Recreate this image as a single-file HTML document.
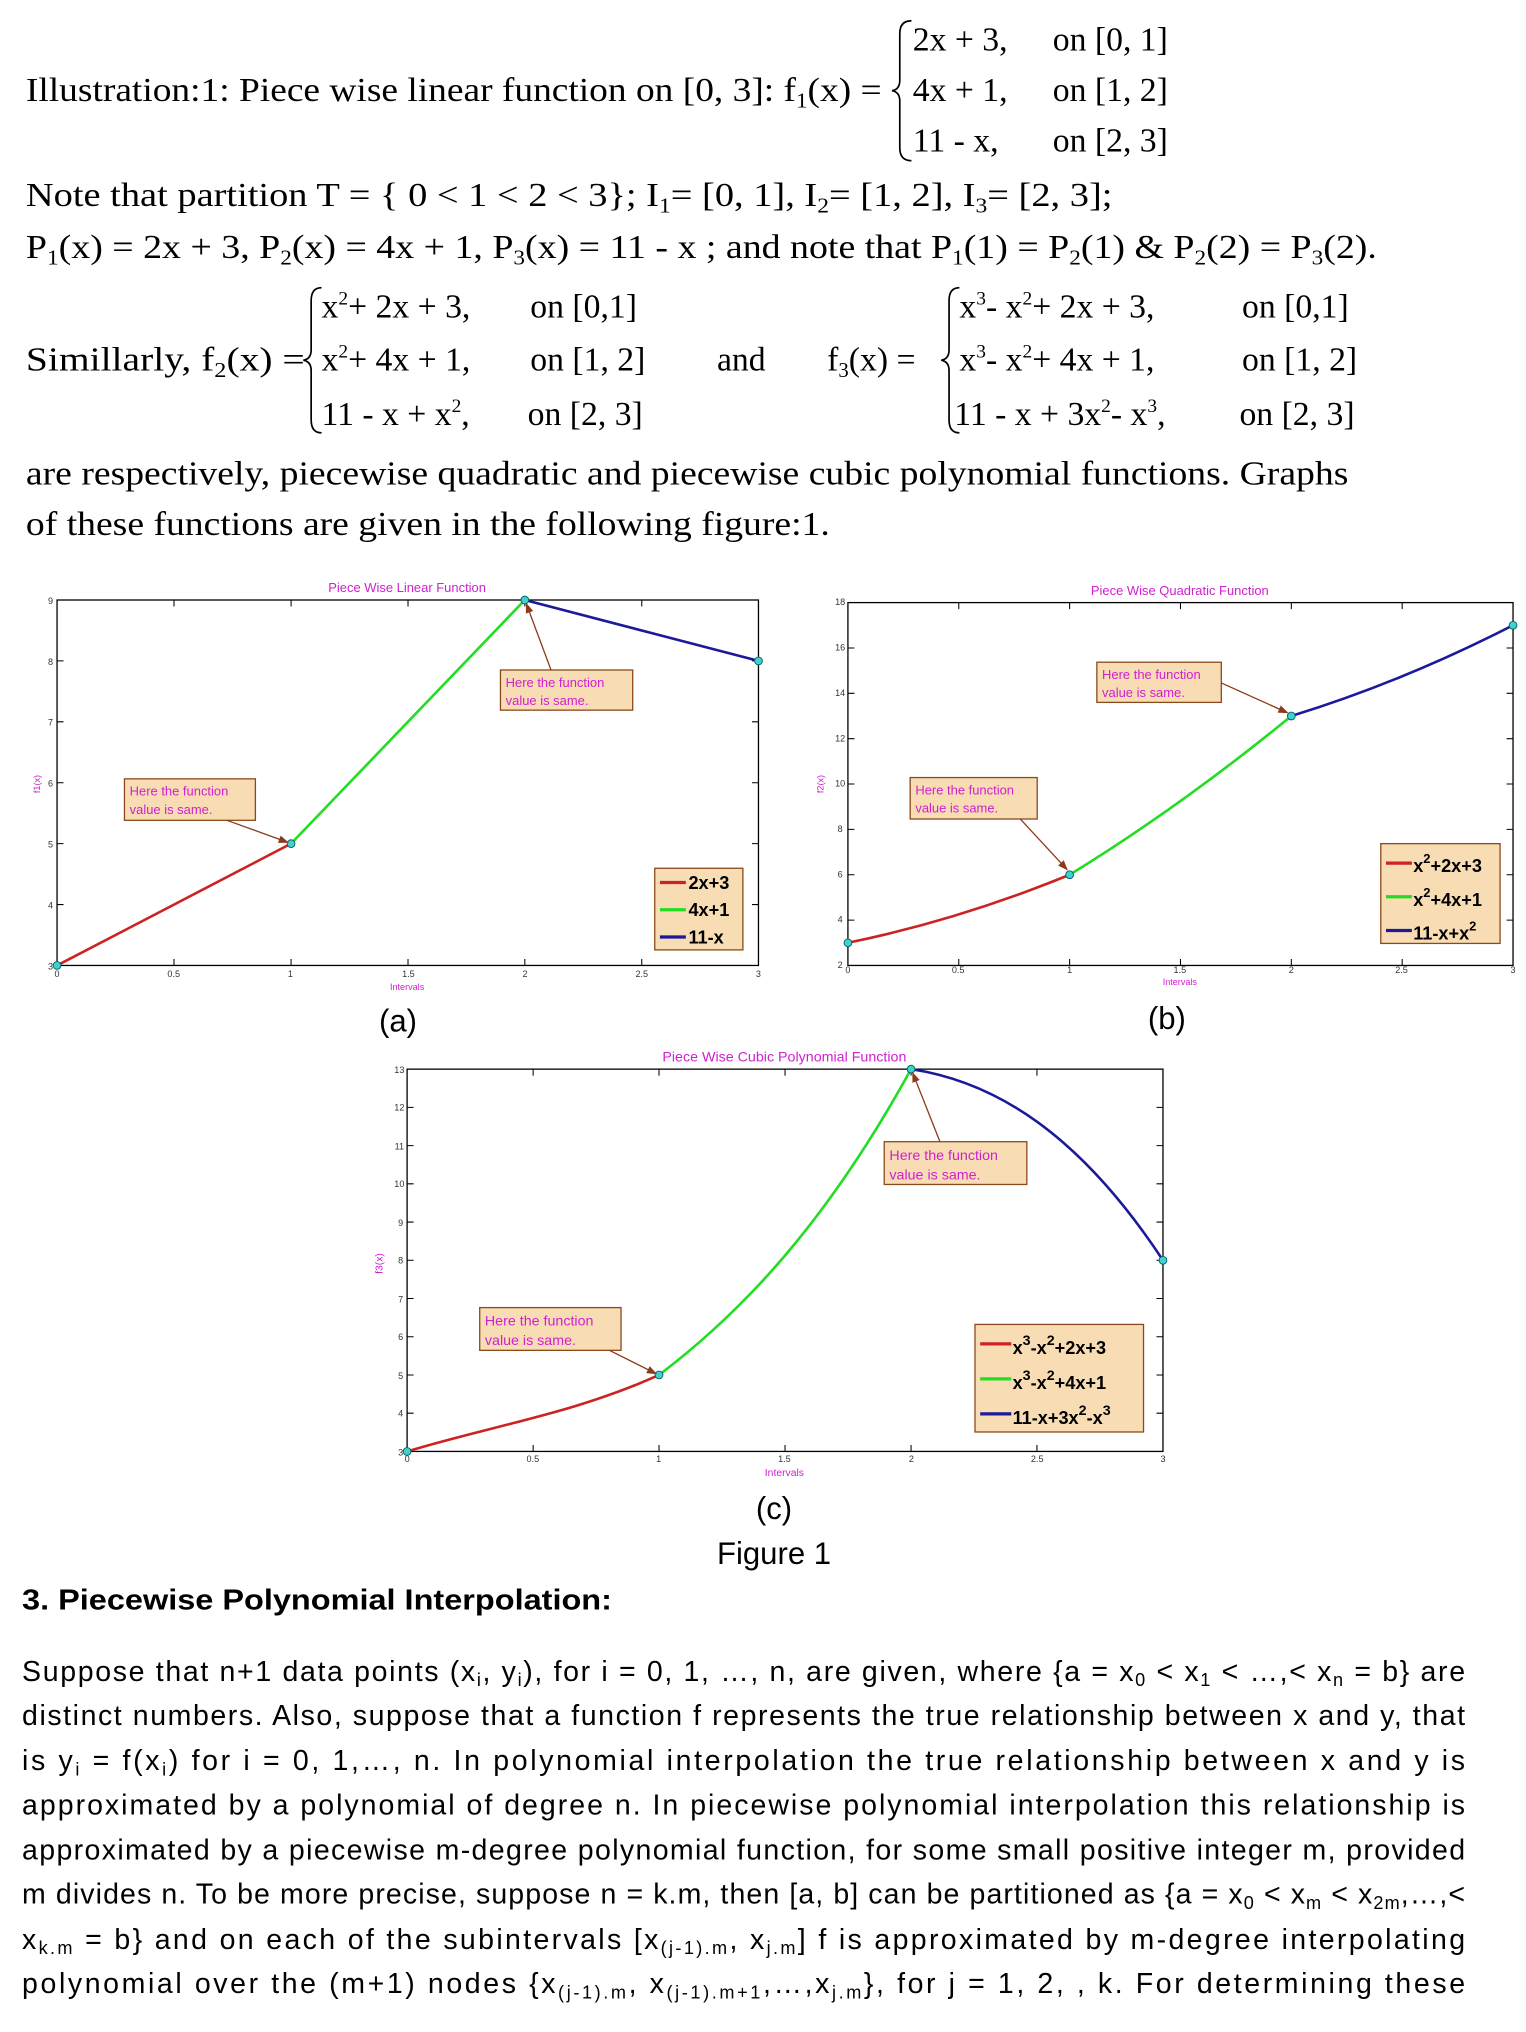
<!DOCTYPE html>
<html><head><meta charset="utf-8"><style>
html,body{margin:0;padding:0;background:#fff}
svg{display:block}
.t{font-family:"Liberation Serif",serif;font-size:26px;fill:#000}
.p{font-family:"Liberation Sans",sans-serif;font-size:22px;fill:#000}
.m{font-family:"Liberation Sans",sans-serif;fill:#d020d0}
.k{font-family:"Liberation Sans",sans-serif;font-size:7px;fill:#333}
.lg{font-family:"Liberation Sans",sans-serif;font-weight:bold;font-size:14px;fill:#000}
.tick{stroke:#000;stroke-width:0.8}
</style></head><body>
<svg width="1526" height="2032" viewBox="0 0 1177 1568" preserveAspectRatio="none" xmlns="http://www.w3.org/2000/svg">
<defs><marker id="ar" markerWidth="8" markerHeight="8" refX="7" refY="4" orient="auto"><path d="M0,1 L8,4 L0,7 z" fill="#8b3a1a"/></marker></defs>
<g class="t">
<text x="20" y="78" textLength="660" lengthAdjust="spacingAndGlyphs">Illustration:1: Piece wise linear function on [0, 3]: f<tspan font-size="16" dy="5">1</tspan><tspan dy="-5">(x) =</tspan></text>
<path d="M703,16 Q694,16 694,26 L694,62 Q694,69 688,70 Q694,71 694,78 L694,114 Q694,124 703,124" fill="none" stroke="#000" stroke-width="1.3"/>
<text x="704" y="39">2x + 3,</text><text x="812" y="39">on [0, 1]</text>
<text x="704" y="78">4x + 1,</text><text x="812" y="78">on [1, 2]</text>
<text x="704" y="117">11 - x,</text><text x="812" y="117">on [2, 3]</text>
<text x="20" y="159" textLength="838" lengthAdjust="spacingAndGlyphs">Note that partition T = { 0 &lt; 1 &lt; 2 &lt; 3}; I<tspan font-size="16" dy="5">1</tspan><tspan dy="-5">= [0, 1], I</tspan><tspan font-size="16" dy="5">2</tspan><tspan dy="-5">= [1, 2], I</tspan><tspan font-size="16" dy="5">3</tspan><tspan dy="-5">= [2, 3];</tspan></text>
<text x="20" y="199" textLength="1042" lengthAdjust="spacingAndGlyphs">P<tspan font-size="16" dy="5">1</tspan><tspan dy="-5">(x) = 2x + 3,  P</tspan><tspan font-size="16" dy="5">2</tspan><tspan dy="-5">(x) = 4x + 1, P</tspan><tspan font-size="16" dy="5">3</tspan><tspan dy="-5">(x) = 11 - x ; and note that P</tspan><tspan font-size="16" dy="5">1</tspan><tspan dy="-5">(1) = P</tspan><tspan font-size="16" dy="5">2</tspan><tspan dy="-5">(1) &amp; P</tspan><tspan font-size="16" dy="5">2</tspan><tspan dy="-5">(2) = P</tspan><tspan font-size="16" dy="5">3</tspan><tspan dy="-5">(2).</tspan></text>
<text x="20" y="286" textLength="215" lengthAdjust="spacingAndGlyphs">Simillarly, f<tspan font-size="16" dy="5">2</tspan><tspan dy="-5">(x) =</tspan></text>
<path d="M248,222 Q240,222 240,232 L240,270 Q240,277 234,278 Q240,279 240,286 L240,324 Q240,334 248,334" fill="none" stroke="#000" stroke-width="1.3"/>
<text x="248" y="245">x<tspan font-size="15" dy="-10">2</tspan><tspan dy="10">+ 2x + 3,</tspan></text><text x="409" y="245">on [0,1]</text>
<text x="248" y="286">x<tspan font-size="15" dy="-10">2</tspan><tspan dy="10">+ 4x + 1,</tspan></text><text x="409" y="286">on [1, 2]</text>
<text x="248" y="328">11 - x + x<tspan font-size="15" dy="-10">2</tspan><tspan dy="10">,</tspan></text><text x="407" y="328">on [2, 3]</text>
<text x="553" y="286">and</text>
<text x="638" y="286">f<tspan font-size="16" dy="5">3</tspan><tspan dy="-5">(x) =</tspan></text>
<path d="M740,222 Q732,222 732,232 L732,270 Q732,277 726,278 Q732,279 732,286 L732,324 Q732,334 740,334" fill="none" stroke="#000" stroke-width="1.3"/>
<text x="740" y="245">x<tspan font-size="15" dy="-10">3</tspan><tspan dy="10">- x</tspan><tspan font-size="15" dy="-10">2</tspan><tspan dy="10">+ 2x + 3,</tspan></text><text x="958" y="245">on [0,1]</text>
<text x="740" y="286">x<tspan font-size="15" dy="-10">3</tspan><tspan dy="10">- x</tspan><tspan font-size="15" dy="-10">2</tspan><tspan dy="10">+ 4x + 1,</tspan></text><text x="958" y="286">on [1, 2]</text>
<text x="736" y="328">11 - x + 3x<tspan font-size="15" dy="-10">2</tspan><tspan dy="10">- x</tspan><tspan font-size="15" dy="-10">3</tspan><tspan dy="10">,</tspan></text><text x="956" y="328">on [2, 3]</text>
<text x="20" y="374" textLength="1020" lengthAdjust="spacingAndGlyphs">are respectively, piecewise quadratic and piecewise cubic polynomial functions. Graphs</text>
<text x="20" y="413" textLength="620" lengthAdjust="spacingAndGlyphs">of these functions are given in the following figure:1.</text>
</g>

<g>
<rect x="44" y="463" width="541" height="282" fill="#fff" stroke="#000" stroke-width="1"/>
<g class="tick">
<path d="M134.2,745v-5M224.5,745v-5M314.7,745v-5M404.8,745v-5M495,745v-5M134.2,463v5M224.5,463v5M314.7,463v5M404.8,463v5M495,463v5"/>
<path d="M44,510h5M44,557h5M44,604h5M44,651h5M44,698h5M585,510h-5M585,557h-5M585,604h-5M585,651h-5M585,698h-5"/>
</g>
<g class="k" text-anchor="middle">
<text x="44" y="754">0</text><text x="134" y="754">0.5</text><text x="224" y="754">1</text><text x="315" y="754">1.5</text><text x="405" y="754">2</text><text x="495" y="754">2.5</text><text x="585" y="754">3</text>
<text x="39" y="466">9</text><text x="39" y="513">8</text><text x="39" y="560">7</text><text x="39" y="607">6</text><text x="39" y="654">5</text><text x="39" y="701">4</text><text x="39" y="748">3</text>
</g>
<text class="m" x="314" y="457" font-size="10" text-anchor="middle">Piece Wise Linear Function</text>
<text class="m" x="314" y="764" font-size="7" text-anchor="middle">Intervals</text>
<text class="m" x="0" y="0" font-size="7" text-anchor="middle" transform="translate(31,605) rotate(-90)">f1(x)</text>
<path d="M44,745L224.5,651" stroke="#cc2222" stroke-width="2" fill="none"/>
<path d="M224.5,651L404.8,463" stroke="#22dd22" stroke-width="2" fill="none"/>
<path d="M404.8,463L585,510" stroke="#1a1a9a" stroke-width="2" fill="none"/>
<g fill="#40d0d0" stroke="#006060" stroke-width="0.7"><circle cx="44" cy="745" r="3"/><circle cx="224.5" cy="651" r="3"/><circle cx="404.8" cy="463" r="3"/><circle cx="585" cy="510" r="3"/></g>
<rect x="386" y="517" width="102" height="31" fill="#f8dcb4" stroke="#8b4a1a"/>
<text class="m" x="390" y="530" font-size="10">Here the function</text><text class="m" x="390" y="544" font-size="10">value is same.</text>
<line x1="425" y1="517" x2="406" y2="466" stroke="#8b3a1a" stroke-width="1" marker-end="url(#ar)"/>
<rect x="96" y="601" width="101" height="32" fill="#f8dcb4" stroke="#8b4a1a"/>
<text class="m" x="100" y="614" font-size="10">Here the function</text><text class="m" x="100" y="628" font-size="10">value is same.</text>
<line x1="175" y1="633" x2="222" y2="650" stroke="#8b3a1a" stroke-width="1" marker-end="url(#ar)"/>
<rect x="505" y="670" width="68" height="63" fill="#f8dcb4" stroke="#8b4a1a"/>
<path d="M509,681h20" stroke="#cc2222" stroke-width="2.5"/><path d="M509,702h20" stroke="#22dd22" stroke-width="2.5"/><path d="M509,723h20" stroke="#1a1a9a" stroke-width="2.5"/>
<text class="lg" x="531" y="686">2x+3</text><text class="lg" x="531" y="707">4x+1</text><text class="lg" x="531" y="728">11-x</text>
</g>
<text x="307" y="796" font-family="Liberation Sans,sans-serif" font-size="24" text-anchor="middle">(a)</text>

<g>
<rect x="654" y="465" width="513" height="280" fill="#fff" stroke="#000" stroke-width="1"/>
<g class="tick">
<path d="M739.5,745v-5M825,745v-5M910.5,745v-5M996,745v-5M1081.5,745v-5M739.5,465v5M825,465v5M910.5,465v5M996,465v5M1081.5,465v5"/>
<path d="M654,710h5M654,675h5M654,640h5M654,605h5M654,570h5M654,535h5M654,500h5M1167,710h-5M1167,675h-5M1167,640h-5M1167,605h-5M1167,570h-5M1167,535h-5M1167,500h-5"/>
</g>
<g class="k" text-anchor="middle">
<text x="654" y="751">0</text><text x="739" y="751">0.5</text><text x="825" y="751">1</text><text x="910" y="751">1.5</text><text x="996" y="751">2</text><text x="1081" y="751">2.5</text><text x="1167" y="751">3</text>
<text x="648" y="747">2</text><text x="648" y="712">4</text><text x="648" y="677">6</text><text x="648" y="642">8</text><text x="648" y="607">10</text><text x="648" y="572">12</text><text x="648" y="537">14</text><text x="648" y="502">16</text><text x="648" y="467">18</text>
</g>
<text class="m" x="910" y="459" font-size="10" text-anchor="middle">Piece Wise Quadratic Function</text>
<text class="m" x="910" y="760" font-size="7" text-anchor="middle">Intervals</text>
<text class="m" x="0" y="0" font-size="7" text-anchor="middle" transform="translate(635,605) rotate(-90)">f2(x)</text>
<path d="M654,727.5Q739.5,710 825,675" stroke="#cc2222" stroke-width="2" fill="none"/>
<path d="M825,675Q910.5,622.5 996,552.5" stroke="#22dd22" stroke-width="2" fill="none"/>
<path d="M996,552.5Q1081.5,526.25 1167,482.5" stroke="#1a1a9a" stroke-width="2" fill="none"/>
<g fill="#40d0d0" stroke="#006060" stroke-width="0.7"><circle cx="654" cy="727.5" r="3"/><circle cx="825" cy="675" r="3"/><circle cx="996" cy="552.5" r="3"/><circle cx="1167" cy="482.5" r="3"/></g>
<rect x="846" y="511" width="96" height="31" fill="#f8dcb4" stroke="#8b4a1a"/>
<text class="m" x="850" y="524" font-size="10">Here the function</text><text class="m" x="850" y="538" font-size="10">value is same.</text>
<line x1="942" y1="527" x2="993" y2="550" stroke="#8b3a1a" stroke-width="1" marker-end="url(#ar)"/>
<rect x="702" y="600" width="98" height="32" fill="#f8dcb4" stroke="#8b4a1a"/>
<text class="m" x="706" y="613" font-size="10">Here the function</text><text class="m" x="706" y="627" font-size="10">value is same.</text>
<line x1="787" y1="632" x2="823" y2="671" stroke="#8b3a1a" stroke-width="1" marker-end="url(#ar)"/>
<rect x="1065" y="651" width="92" height="77" fill="#f8dcb4" stroke="#8b4a1a"/>
<path d="M1069,666h20" stroke="#cc2222" stroke-width="2.5"/><path d="M1069,692h20" stroke="#22dd22" stroke-width="2.5"/><path d="M1069,718h20" stroke="#1a1a9a" stroke-width="2.5"/>
<text class="lg" x="1090" y="673" font-size="13">x<tspan font-size="10" dy="-7">2</tspan><tspan dy="7">+2x+3</tspan></text>
<text class="lg" x="1090" y="699" font-size="13">x<tspan font-size="10" dy="-7">2</tspan><tspan dy="7">+4x+1</tspan></text>
<text class="lg" x="1090" y="725" font-size="13">11-x+x<tspan font-size="10" dy="-7">2</tspan></text>
</g>
<text x="900" y="794" font-family="Liberation Sans,sans-serif" font-size="24" text-anchor="middle">(b)</text>

<g>
<rect x="314" y="825" width="583" height="295" fill="#fff" stroke="#000" stroke-width="1"/>
<g class="tick">
<path d="M411.2,1120v-5M508.3,1120v-5M605.5,1120v-5M702.7,1120v-5M799.8,1120v-5M411.2,825v5M508.3,825v5M605.5,825v5M702.7,825v5M799.8,825v5"/>
<path d="M314,1090.5h5M314,1061h5M314,1031.5h5M314,1002h5M314,972.5h5M314,943h5M314,913.5h5M314,884h5M314,854.5h5M897,1090.5h-5M897,1061h-5M897,1031.5h-5M897,1002h-5M897,972.5h-5M897,943h-5M897,913.5h-5M897,884h-5M897,854.5h-5"/>
</g>
<g class="k" text-anchor="middle">
<text x="314" y="1128">0</text><text x="411" y="1128">0.5</text><text x="508" y="1128">1</text><text x="605" y="1128">1.5</text><text x="703" y="1128">2</text><text x="800" y="1128">2.5</text><text x="897" y="1128">3</text>
<text x="309" y="1123">3</text><text x="309" y="1093">4</text><text x="309" y="1064">5</text><text x="309" y="1034">6</text><text x="309" y="1005">7</text><text x="309" y="975">8</text><text x="309" y="946">9</text><text x="308" y="916">10</text><text x="308" y="887">11</text><text x="308" y="857">12</text><text x="308" y="828">13</text>
</g>
<text class="m" x="605" y="819" font-size="11" text-anchor="middle">Piece Wise Cubic Polynomial Function</text>
<text class="m" x="605" y="1139" font-size="8" text-anchor="middle">Intervals</text>
<text class="m" x="0" y="0" font-size="8" text-anchor="middle" transform="translate(295,975) rotate(-90)">f3(x)</text>
<path d="M314,1120C378.8,1100.3 443.6,1090.5 508.3,1061" stroke="#cc2222" stroke-width="2" fill="none"/>
<path d="M508.3,1061C573.1,1011.8 637.9,943 702.7,825" stroke="#22dd22" stroke-width="2" fill="none"/>
<path d="M702.7,825C767.4,834.8 832.2,874.2 897,972.5" stroke="#1a1a9a" stroke-width="2" fill="none"/>
<g fill="#40d0d0" stroke="#006060" stroke-width="0.7"><circle cx="314" cy="1120" r="3"/><circle cx="508.3" cy="1061" r="3"/><circle cx="702.7" cy="825" r="3"/><circle cx="897" cy="972.5" r="3"/></g>
<rect x="682" y="881" width="110" height="33" fill="#f8dcb4" stroke="#8b4a1a"/>
<text class="m" x="686" y="895" font-size="11">Here the function</text><text class="m" x="686" y="910" font-size="11">value is same.</text>
<line x1="725" y1="881" x2="704" y2="828" stroke="#8b3a1a" stroke-width="1" marker-end="url(#ar)"/>
<rect x="370" y="1009" width="109" height="33" fill="#f8dcb4" stroke="#8b4a1a"/>
<text class="m" x="374" y="1023" font-size="11">Here the function</text><text class="m" x="374" y="1038" font-size="11">value is same.</text>
<line x1="470" y1="1042" x2="506" y2="1060" stroke="#8b3a1a" stroke-width="1" marker-end="url(#ar)"/>
<rect x="752" y="1022" width="130" height="83" fill="#f8dcb4" stroke="#8b4a1a"/>
<path d="M756,1037h24" stroke="#cc2222" stroke-width="2.5"/><path d="M756,1064h24" stroke="#22dd22" stroke-width="2.5"/><path d="M756,1091h24" stroke="#1a1a9a" stroke-width="2.5"/>
<text class="lg" x="781" y="1045" font-size="14">x<tspan font-size="11" dy="-7">3</tspan><tspan dy="7">-x</tspan><tspan font-size="11" dy="-7">2</tspan><tspan dy="7">+2x+3</tspan></text>
<text class="lg" x="781" y="1072" font-size="14">x<tspan font-size="11" dy="-7">3</tspan><tspan dy="7">-x</tspan><tspan font-size="11" dy="-7">2</tspan><tspan dy="7">+4x+1</tspan></text>
<text class="lg" x="781" y="1099" font-size="14">11-x+3x<tspan font-size="11" dy="-7">2</tspan><tspan dy="7">-x</tspan><tspan font-size="11" dy="-7">3</tspan></text>
</g>
<text x="597" y="1172" font-family="Liberation Sans,sans-serif" font-size="24" text-anchor="middle">(c)</text>
<text x="597" y="1207" font-family="Liberation Sans,sans-serif" font-size="24" text-anchor="middle">Figure 1</text>

<text x="17" y="1242" font-family="Liberation Sans,sans-serif" font-weight="bold" font-size="22" textLength="455" lengthAdjust="spacingAndGlyphs">3. Piecewise Polynomial Interpolation:</text>
<g class="p">
<text x="17" y="1297" textLength="1113" lengthAdjust="spacing">Suppose that n+1 data points (x<tspan font-size="14" dy="4">i</tspan><tspan dy="-4">, y</tspan><tspan font-size="14" dy="4">i</tspan><tspan dy="-4">), for i = 0, 1, …, n, are given, where  {a = x</tspan><tspan font-size="14" dy="4">0</tspan><tspan dy="-4"> &lt; x</tspan><tspan font-size="14" dy="4">1</tspan><tspan dy="-4"> &lt; …,&lt; x</tspan><tspan font-size="14" dy="4">n</tspan><tspan dy="-4"> = b} are</tspan></text>
<text x="17" y="1331" textLength="1113" lengthAdjust="spacing">distinct numbers. Also, suppose that a function f represents the true relationship between x and y, that</text>
<text x="17" y="1366" textLength="1113" lengthAdjust="spacing">is y<tspan font-size="14" dy="4">i</tspan><tspan dy="-4"> = f(x</tspan><tspan font-size="14" dy="4">i</tspan><tspan dy="-4">) for i = 0, 1,…, n. In polynomial interpolation the true relationship between x and y is</tspan></text>
<text x="17" y="1400" textLength="1113" lengthAdjust="spacing">approximated by a polynomial of degree n. In piecewise polynomial interpolation this relationship is</text>
<text x="17" y="1435" textLength="1113" lengthAdjust="spacing">approximated by a piecewise m-degree polynomial function, for some small positive integer m, provided</text>
<text x="17" y="1469" textLength="1113" lengthAdjust="spacing">m divides n. To be more precise, suppose n = k.m, then [a, b] can be partitioned as {a = x<tspan font-size="14" dy="4">0</tspan><tspan dy="-4"> &lt; x</tspan><tspan font-size="14" dy="4">m</tspan><tspan dy="-4"> &lt; x</tspan><tspan font-size="14" dy="4">2m</tspan><tspan dy="-4">,…,&lt;</tspan></text>
<text x="17" y="1504" textLength="1113" lengthAdjust="spacing">x<tspan font-size="14" dy="4">k.m</tspan><tspan dy="-4"> = b} and on each of the subintervals [x</tspan><tspan font-size="14" dy="4">(j-1).m</tspan><tspan dy="-4">,  x</tspan><tspan font-size="14" dy="4">j.m</tspan><tspan dy="-4">] f is approximated by m-degree interpolating</tspan></text>
<text x="17" y="1538" textLength="1113" lengthAdjust="spacing">polynomial over the (m+1) nodes {x<tspan font-size="14" dy="4">(j-1).m</tspan><tspan dy="-4">, x</tspan><tspan font-size="14" dy="4">(j-1).m+1</tspan><tspan dy="-4">,…,x</tspan><tspan font-size="14" dy="4">j.m</tspan><tspan dy="-4">}, for j = 1, 2,    , k. For determining these</tspan></text>
</g>
</svg>
</body></html>
